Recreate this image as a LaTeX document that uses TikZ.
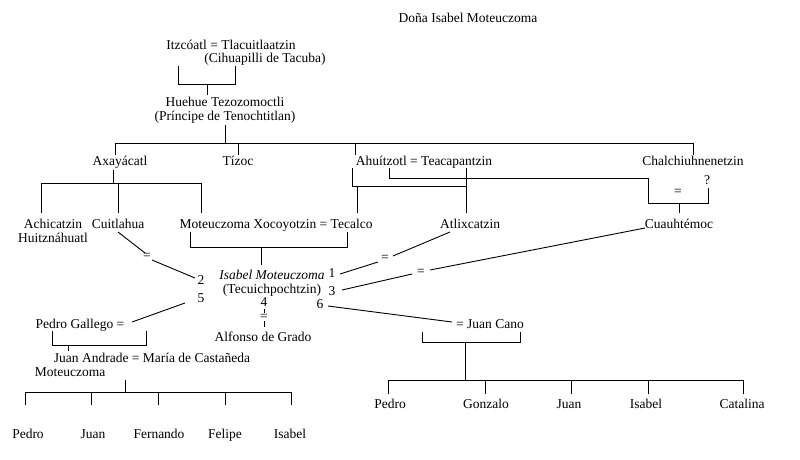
\documentclass[tikz,border=0pt]{standalone}
\usepackage{fontspec}
\setmainfont{Liberation Serif}
\begin{document}
\begin{tikzpicture}[x=1pt,y=-1pt,
  t/.style={inner sep=0pt,font=\fontsize{13.5}{14}\selectfont,anchor=base},
  ln/.style={line width=0.9pt}]
\useasboundingbox (0,0) rectangle (800,459);
\node[t] (title) at (468,22) {Doña Isabel Moteuczoma};
\node[t] (itz) at (231,49) {Itzcóatl = Tlacuitlaatzin};
\node[t] (cih) at (265,62) {(Cihuapilli de Tacuba)};
\node[t] (hue) at (225,106) {Huehue Tezozomoctli};
\node[t] (pri) at (225,120) {(Príncipe de Tenochtitlan)};
\node[t] (axa) at (120,165) {Axayácatl};
\node[t] (tiz) at (238,165) {Tízoc};
\node[t] (ahu) at (424,165) {Ahuítzotl = Teacapantzin};
\node[t] (cha) at (693,165) {Chalchiuhnenetzin};
\node[t] (eq1) at (678,195) {=};
\node[t] (q) at (707,184) {?};
\node[t] (ach) at (53,228) {Achicatzin};
\node[t] (hui) at (53,242) {Huitznáhuatl};
\node[t] (cui) at (118,228) {Cuitlahua};
\node[t] (mot) at (276,228) {Moteuczoma Xocoyotzin = Tecalco};
\node[t] (atl) at (470,228) {Atlixcatzin};
\node[t] (cua) at (679,228) {Cuauhtémoc};
\node[t,font=\fontsize{13.5}{14}\selectfont\itshape] (isa) at (272,279) {Isabel Moteuczoma};
\node[t] (tec) at (272,293) {(Tecuichpochtzin)};
\node[t] (n2) at (201,284) {2};
\node[t] (n5) at (201,302) {5};
\node[t] (n1) at (332,277) {1};
\node[t] (n3) at (332,295) {3};
\node[t] (n4) at (264,306) {4};
\node[t] (n6) at (320,308) {6};
\node[t] (e2) at (147,259) {=};
\node[t] (e1) at (385,261) {=};
\node[t] (e3) at (421,275) {=};
\node[t] (e4) at (264,320) {=};
\node[t] (alf) at (263,341) {Alfonso de Grado};
\node[t] (pg) at (80,328) {Pedro Gallego =};
\node[t] (jc) at (490,328) {= Juan Cano};
\node[t] (ja) at (152,362) {Juan Andrade = María de Castañeda};
\node[t] (jam) at (70,376) {Moteuczoma};
\foreach \n/\x/\s in {c1/28/Pedro,c2/93/Juan,c3/159/Fernando,c4/225/Felipe,c5/290/Isabel}
  \node[t] (\n) at (\x,438) {\s};
\foreach \n/\x/\s in {d1/390/Pedro,d2/486/Gonzalo,d3/569/Juan,d4/646/Isabel,d5/742/Catalina}
  \node[t] (\n) at (\x,408) {\s};
% brackets
\draw[ln] (178,66) -- (178,84) -- (235,84) -- (235,66);
\draw[ln] (207,84) -- (207,95);
\draw[ln] (225,125) -- (225,143);
\draw[ln] (115,155) -- (115,143) -- (693,143) -- (693,155);
\draw[ln] (238,143) -- (238,155);
\draw[ln] (355,143) -- (355,155);
\draw[ln] (113,170) -- (113,183);
\draw[ln] (41,213) -- (41,183) -- (201,183) -- (201,213);
\draw[ln] (118,183) -- (118,213);
\draw[ln] (352,168) -- (352,186) -- (466,186);
\draw[ln] (466,168) -- (466,213);
\draw[ln] (357,186) -- (357,213);
\draw[ln] (389,168) -- (389,178) -- (648,178) -- (648,203) -- (708,203) -- (708,188);
\draw[ln] (679,203) -- (679,213);
\draw[ln] (190,232) -- (190,247) -- (347,247) -- (347,232);
\draw[ln] (261,247) -- (261,265);
% marriage lines
\draw[ln] (118,232) -- (145,253);
\draw[ln] (152,260) -- (195,278);
\draw[ln] (450,232) -- (393,256);
\draw[ln] (378,262) -- (340,274);
\draw[ln] (645,228) -- (430,270);
\draw[ln] (412,274) -- (342,290);
\draw[ln] (328,306) -- (452,322);
\draw[ln] (185,303) -- (132,322);
\draw[ln] (264,309) -- (264,313);
\draw[ln] (264,321) -- (264,327);
\draw[ln] (52,331) -- (52,345) -- (146,345) -- (146,331);
\draw[ln] (68,345) -- (68,351);
\draw[ln] (125,380) -- (125,392);
\draw[ln] (25,405) -- (25,392) -- (291,392) -- (291,405);
\foreach \x in {91,158,225} \draw[ln] (\x,392) -- (\x,405);
\draw[ln] (422,332) -- (422,342) -- (520,342) -- (520,332);
\draw[ln] (465,342) -- (465,380);
\draw[ln] (388,394) -- (388,380) -- (743,380) -- (743,394);
\foreach \x in {485,571,648} \draw[ln] (\x,380) -- (\x,394);
\end{tikzpicture}
\end{document}
